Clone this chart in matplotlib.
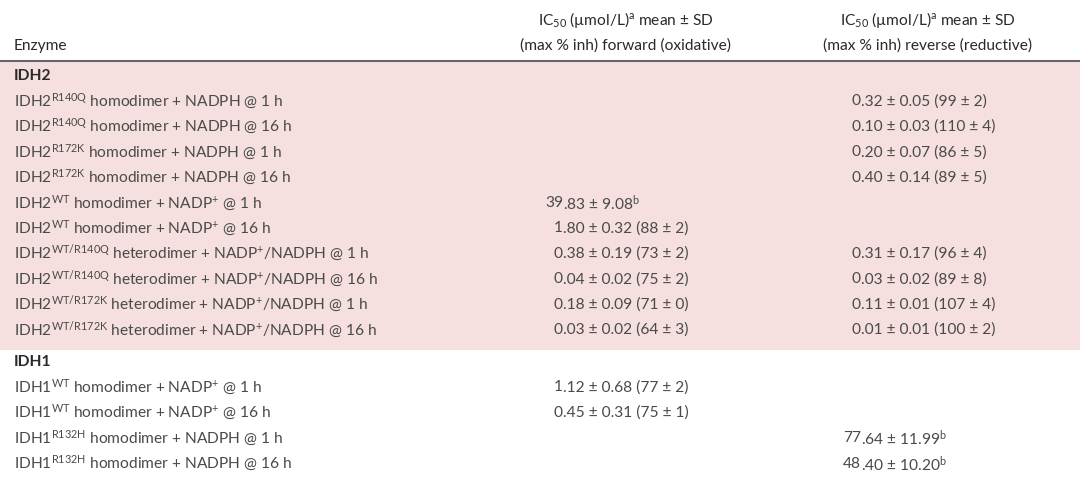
import matplotlib
matplotlib.use("Agg")
import matplotlib.pyplot as plt

plt.rcParams['font.family'] = ['Lato', 'DejaVu Sans']
plt.rcParams['mathtext.fontset'] = 'custom'
plt.rcParams['mathtext.rm'] = 'Lato'
plt.rcParams['mathtext.it'] = 'Lato:italic'
plt.rcParams['mathtext.bf'] = 'Lato:bold'

# Table content
groups = ["IDH2", "IDH1"]
idh2_labels = [
    r"IDH2$^{\mathrm{R140Q}}$ homodimer + NADPH @ 1 h",
    r"IDH2$^{\mathrm{R140Q}}$ homodimer + NADPH @ 16 h",
    r"IDH2$^{\mathrm{R172K}}$ homodimer + NADPH @ 1 h",
    r"IDH2$^{\mathrm{R172K}}$ homodimer + NADPH @ 16 h",
    r"IDH2$^{\mathrm{WT}}$ homodimer + NADP$^{+}$ @ 1 h",
    r"IDH2$^{\mathrm{WT}}$ homodimer + NADP$^{+}$ @ 16 h",
    r"IDH2$^{\mathrm{WT/R140Q}}$ heterodimer + NADP$^{+}$/NADPH @ 1 h",
    r"IDH2$^{\mathrm{WT/R140Q}}$ heterodimer + NADP$^{+}$/NADPH @ 16 h",
    r"IDH2$^{\mathrm{WT/R172K}}$ heterodimer + NADP$^{+}$/NADPH @ 1 h",
    r"IDH2$^{\mathrm{WT/R172K}}$ heterodimer + NADP$^{+}$/NADPH @ 16 h",
]
idh2_forward = ["", "", "", "",
                r"39.83 ± 9.08$^{\mathrm{b}}$", "1.80 ± 0.32 (88 ± 2)",
                "0.38 ± 0.19 (73 ± 2)", "0.04 ± 0.02 (75 ± 2)",
                "0.18 ± 0.09 (71 ± 0)", "0.03 ± 0.02 (64 ± 3)"]
idh2_reverse = ["0.32 ± 0.05 (99 ± 2)", "0.10 ± 0.03 (110 ± 4)",
                "0.20 ± 0.07 (86 ± 5)", "0.40 ± 0.14 (89 ± 5)", "", "",
                "0.31 ± 0.17 (96 ± 4)", "0.03 ± 0.02 (89 ± 8)",
                "0.11 ± 0.01 (107 ± 4)", "0.01 ± 0.01 (100 ± 2)"]
idh1_labels = [
    r"IDH1$^{\mathrm{WT}}$ homodimer + NADP$^{+}$ @ 1 h",
    r"IDH1$^{\mathrm{WT}}$ homodimer + NADP$^{+}$ @ 16 h",
    r"IDH1$^{\mathrm{R132H}}$ homodimer + NADPH @ 1 h",
    r"IDH1$^{\mathrm{R132H}}$ homodimer + NADPH @ 16 h",
]
idh1_forward = ["1.12 ± 0.68 (77 ± 2)", "0.45 ± 0.31 (75 ± 1)", "", ""]
idh1_reverse = ["", "", r"77.64 ± 11.99$^{\mathrm{b}}$", r"48.40 ± 10.20$^{\mathrm{b}}$"]

W, H = 1080, 484
fig = plt.figure(figsize=(W / 100, H / 100), dpi=100)
ax = fig.add_axes([0, 0, 1, 1])
ax.set_xlim(0, W)
ax.set_ylim(H, 0)
ax.axis('off')

head_c = '#2a2a2a'
body_c = '#4a4a4a'
fs = 11.2

# pink band and header rule
ax.add_patch(plt.Rectangle((0, 61), W, 289, color='#f5e0df', lw=0))
ax.plot([0, W], [60.5, 60.5], color='#666666', lw=1.5)

ax.text(14, 46, "Enzyme", fontsize=fs, color=head_c, va='center')
for xc, dirn in [(626, "forward (oxidative)"), (928, "reverse (reductive)")]:
    ax.text(xc, 20, r"IC$_{50}$ (µmol/L)$^{\mathrm{a}}$ mean ± SD", fontsize=fs,
            color=head_c, ha='center', va='center')
    ax.text(xc, 46, "(max % inh) " + dirn, fontsize=fs, color=head_c,
            ha='center', va='center')


def value(x, y, s):
    # align on decimal point
    if not s:
        return
    i = s.index('.')
    ax.text(x, y, s[:i], fontsize=fs, color=body_c, ha='right', va='center')
    ax.text(x, y, s[i:], fontsize=fs, color=body_c, ha='left', va='center')


def block(y0, name, labels, fwd, rev):
    ax.text(14, y0, name, fontsize=fs, color=head_c, weight='bold', va='center')
    for k, lab in enumerate(labels):
        y = y0 + 25.4 * (k + 1)
        ax.text(14, y, lab, fontsize=fs, color=body_c, va='center')
        value(563, y, fwd[k])
        value(861, y, rev[k])


block(76, groups[0], idh2_labels, idh2_forward, idh2_reverse)
block(362, groups[1], idh1_labels, idh1_forward, idh1_reverse)

fig.savefig("out.png", dpi=100)
